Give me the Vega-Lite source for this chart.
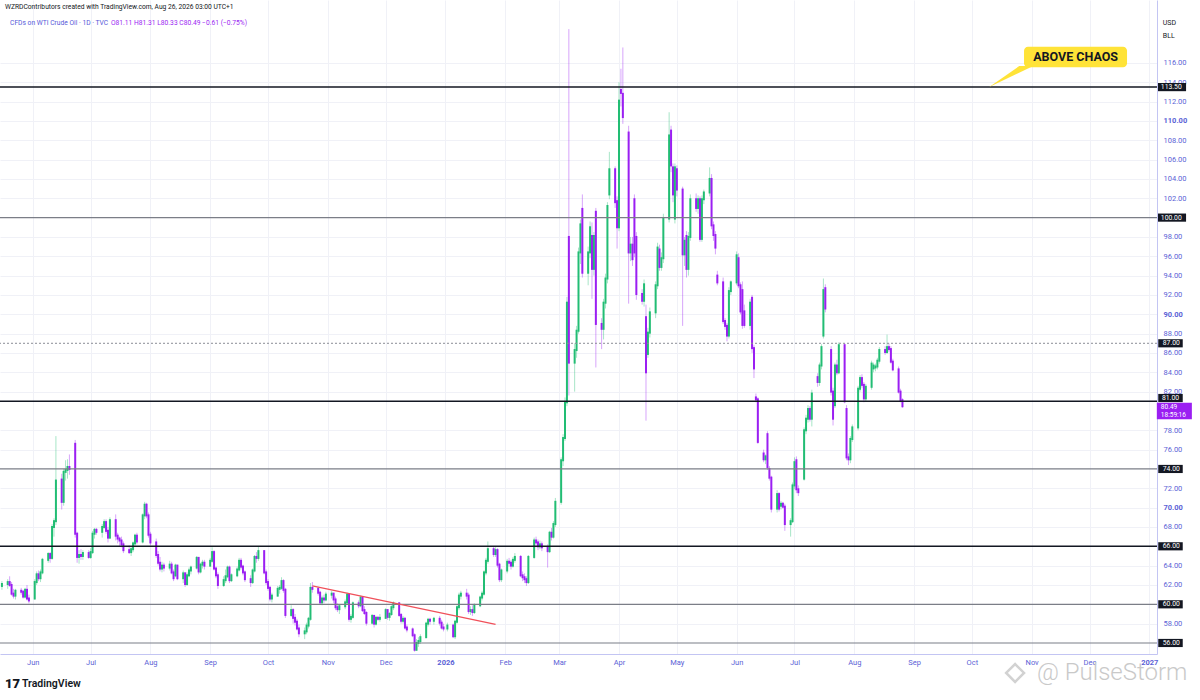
{
  "$schema": "https://vega.github.io/schema/vega-lite/v6.json",
  "width": 1157,
  "height": 654,
  "autosize": "none",
  "padding": {"left": 0, "top": 0, "right": 43, "bottom": 46},
  "background": "#ffffff",
  "config": {"view": {"stroke": null}, "font": "Roboto", "axis": {"labelOverlap": false, "labelFlush": false}},
  "datasets": {
    "ohlc": [
      {"d":"2025-05-16","o":61.9,"h":62.4,"l":61.5,"c":62.1},
      {"d":"2025-05-19","o":62.1,"h":62.6,"l":61.6,"c":62.3},
      {"d":"2025-05-20","o":62.3,"h":62.9,"l":61.8,"c":62.0},
      {"d":"2025-05-21","o":62.0,"h":62.3,"l":60.9,"c":61.1},
      {"d":"2025-05-22","o":61.1,"h":61.6,"l":60.6,"c":60.9},
      {"d":"2025-05-23","o":60.9,"h":61.6,"l":60.5,"c":61.4},
      {"d":"2025-05-26","o":61.4,"h":61.7,"l":61.0,"c":61.3},
      {"d":"2025-05-27","o":61.3,"h":61.5,"l":60.6,"c":60.8},
      {"d":"2025-05-28","o":60.8,"h":61.7,"l":60.6,"c":61.5},
      {"d":"2025-05-29","o":61.5,"h":62.0,"l":60.4,"c":60.6},
      {"d":"2025-05-30","o":60.6,"h":61.0,"l":60.1,"c":60.4},
      {"d":"2025-06-02","o":60.6,"h":62.6,"l":60.5,"c":62.3},
      {"d":"2025-06-03","o":62.3,"h":63.4,"l":62.0,"c":63.1},
      {"d":"2025-06-04","o":63.1,"h":63.5,"l":62.4,"c":62.7},
      {"d":"2025-06-05","o":62.7,"h":63.6,"l":62.3,"c":63.3},
      {"d":"2025-06-06","o":63.3,"h":64.8,"l":63.1,"c":64.6},
      {"d":"2025-06-09","o":64.6,"h":65.4,"l":64.3,"c":65.2},
      {"d":"2025-06-10","o":65.2,"h":65.4,"l":64.3,"c":64.8},
      {"d":"2025-06-11","o":64.8,"h":68.3,"l":64.6,"c":68.0},
      {"d":"2025-06-12","o":68.0,"h":68.9,"l":67.0,"c":68.6},
      {"d":"2025-06-13","o":68.6,"h":77.4,"l":68.2,"c":72.8},
      {"d":"2025-06-16","o":72.9,"h":73.5,"l":69.8,"c":70.6},
      {"d":"2025-06-17","o":70.6,"h":74.0,"l":70.2,"c":73.7},
      {"d":"2025-06-18","o":73.7,"h":74.9,"l":72.8,"c":73.9},
      {"d":"2025-06-19","o":73.9,"h":75.0,"l":73.0,"c":74.2},
      {"d":"2025-06-20","o":74.2,"h":75.5,"l":73.4,"c":74.0},
      {"d":"2025-06-23","o":76.6,"h":77.0,"l":66.9,"c":67.3},
      {"d":"2025-06-24","o":67.3,"h":67.5,"l":64.3,"c":64.9},
      {"d":"2025-06-25","o":64.9,"h":65.6,"l":64.2,"c":65.1},
      {"d":"2025-06-26","o":65.1,"h":65.7,"l":64.6,"c":65.0},
      {"d":"2025-06-27","o":65.0,"h":65.6,"l":64.6,"c":65.3},
      {"d":"2025-06-30","o":65.3,"h":65.6,"l":64.7,"c":64.9},
      {"d":"2025-07-01","o":64.9,"h":65.8,"l":64.7,"c":65.4},
      {"d":"2025-07-02","o":65.4,"h":67.6,"l":65.2,"c":67.3},
      {"d":"2025-07-03","o":67.3,"h":67.9,"l":66.8,"c":67.7},
      {"d":"2025-07-04","o":67.7,"h":67.9,"l":67.2,"c":67.5},
      {"d":"2025-07-07","o":67.5,"h":68.3,"l":66.9,"c":68.0},
      {"d":"2025-07-08","o":68.0,"h":68.8,"l":67.8,"c":68.5},
      {"d":"2025-07-09","o":68.5,"h":68.8,"l":67.3,"c":67.6},
      {"d":"2025-07-10","o":67.6,"h":68.0,"l":66.4,"c":66.9},
      {"d":"2025-07-11","o":66.9,"h":69.0,"l":66.8,"c":68.7},
      {"d":"2025-07-14","o":68.7,"h":69.3,"l":66.6,"c":67.1},
      {"d":"2025-07-15","o":67.1,"h":67.4,"l":66.3,"c":66.8},
      {"d":"2025-07-16","o":66.8,"h":67.0,"l":66.0,"c":66.6},
      {"d":"2025-07-17","o":66.6,"h":67.0,"l":65.9,"c":66.2},
      {"d":"2025-07-18","o":66.2,"h":66.5,"l":65.3,"c":65.6},
      {"d":"2025-07-21","o":65.6,"h":66.1,"l":65.2,"c":65.4},
      {"d":"2025-07-22","o":65.4,"h":66.0,"l":65.0,"c":65.7},
      {"d":"2025-07-23","o":65.7,"h":66.5,"l":65.4,"c":66.3},
      {"d":"2025-07-24","o":66.3,"h":67.3,"l":66.0,"c":67.1},
      {"d":"2025-07-25","o":67.1,"h":67.4,"l":66.2,"c":66.5},
      {"d":"2025-07-28","o":66.5,"h":69.4,"l":66.3,"c":69.2},
      {"d":"2025-07-29","o":69.2,"h":70.6,"l":68.8,"c":70.3},
      {"d":"2025-07-30","o":70.3,"h":70.5,"l":68.9,"c":69.2},
      {"d":"2025-07-31","o":69.2,"h":69.5,"l":66.9,"c":67.2},
      {"d":"2025-08-01","o":67.2,"h":67.5,"l":66.1,"c":66.4},
      {"d":"2025-08-04","o":66.4,"h":66.8,"l":64.8,"c":65.1},
      {"d":"2025-08-05","o":65.1,"h":65.5,"l":64.0,"c":64.3},
      {"d":"2025-08-06","o":64.3,"h":64.9,"l":63.4,"c":63.7},
      {"d":"2025-08-07","o":63.7,"h":64.4,"l":63.3,"c":64.0},
      {"d":"2025-08-08","o":64.0,"h":64.3,"l":63.4,"c":63.8},
      {"d":"2025-08-11","o":63.8,"h":64.5,"l":63.5,"c":64.1},
      {"d":"2025-08-12","o":64.1,"h":64.4,"l":63.1,"c":63.3},
      {"d":"2025-08-13","o":63.3,"h":63.6,"l":62.4,"c":62.7},
      {"d":"2025-08-14","o":63.0,"h":64.2,"l":62.8,"c":64.0},
      {"d":"2025-08-15","o":64.0,"h":64.1,"l":62.5,"c":62.7},
      {"d":"2025-08-18","o":62.7,"h":63.5,"l":62.2,"c":63.2},
      {"d":"2025-08-19","o":63.2,"h":63.3,"l":61.8,"c":62.1},
      {"d":"2025-08-20","o":62.1,"h":63.3,"l":61.9,"c":63.0},
      {"d":"2025-08-21","o":63.0,"h":63.8,"l":62.8,"c":63.5},
      {"d":"2025-08-22","o":63.5,"h":64.0,"l":63.1,"c":63.8},
      {"d":"2025-08-25","o":63.8,"h":65.0,"l":63.6,"c":64.8},
      {"d":"2025-08-26","o":64.8,"h":64.9,"l":63.1,"c":63.4},
      {"d":"2025-08-27","o":63.4,"h":64.3,"l":63.2,"c":64.1},
      {"d":"2025-08-28","o":64.1,"h":64.6,"l":63.7,"c":64.3},
      {"d":"2025-08-29","o":64.3,"h":64.6,"l":63.6,"c":64.0},
      {"d":"2025-09-01","o":64.0,"h":64.8,"l":63.9,"c":64.5},
      {"d":"2025-09-02","o":64.5,"h":65.9,"l":64.3,"c":65.4},
      {"d":"2025-09-03","o":65.4,"h":65.6,"l":63.5,"c":63.7},
      {"d":"2025-09-04","o":63.7,"h":63.9,"l":62.7,"c":63.0},
      {"d":"2025-09-05","o":63.0,"h":63.3,"l":61.6,"c":62.0},
      {"d":"2025-09-08","o":62.0,"h":62.9,"l":61.8,"c":62.5},
      {"d":"2025-09-09","o":62.5,"h":63.6,"l":62.2,"c":62.9},
      {"d":"2025-09-10","o":62.9,"h":64.0,"l":62.7,"c":63.8},
      {"d":"2025-09-11","o":63.8,"h":64.0,"l":62.2,"c":62.5},
      {"d":"2025-09-12","o":62.5,"h":63.2,"l":62.3,"c":63.0},
      {"d":"2025-09-15","o":63.0,"h":63.9,"l":62.8,"c":63.6},
      {"d":"2025-09-16","o":63.6,"h":64.8,"l":63.4,"c":64.5},
      {"d":"2025-09-17","o":64.5,"h":64.8,"l":63.6,"c":63.9},
      {"d":"2025-09-18","o":63.9,"h":64.1,"l":63.0,"c":63.3},
      {"d":"2025-09-19","o":63.3,"h":63.5,"l":62.3,"c":62.6},
      {"d":"2025-09-22","o":62.6,"h":63.0,"l":61.8,"c":62.3},
      {"d":"2025-09-23","o":62.3,"h":63.7,"l":62.1,"c":63.5},
      {"d":"2025-09-24","o":63.5,"h":65.1,"l":63.3,"c":64.9},
      {"d":"2025-09-25","o":64.9,"h":65.4,"l":64.3,"c":64.8},
      {"d":"2025-09-26","o":64.8,"h":66.0,"l":64.5,"c":65.5},
      {"d":"2025-09-29","o":65.5,"h":65.6,"l":63.1,"c":63.3},
      {"d":"2025-09-30","o":63.3,"h":63.6,"l":62.0,"c":62.3},
      {"d":"2025-10-01","o":62.3,"h":62.6,"l":61.4,"c":61.7},
      {"d":"2025-10-02","o":61.7,"h":61.9,"l":60.3,"c":60.6},
      {"d":"2025-10-03","o":60.6,"h":61.2,"l":60.2,"c":60.9},
      {"d":"2025-10-06","o":60.9,"h":61.9,"l":60.8,"c":61.6},
      {"d":"2025-10-07","o":61.6,"h":62.0,"l":61.1,"c":61.7},
      {"d":"2025-10-08","o":61.7,"h":62.8,"l":61.5,"c":62.4},
      {"d":"2025-10-09","o":62.4,"h":62.6,"l":61.2,"c":61.5},
      {"d":"2025-10-10","o":61.5,"h":61.7,"l":58.6,"c":58.9},
      {"d":"2025-10-13","o":58.9,"h":59.9,"l":58.7,"c":59.4},
      {"d":"2025-10-14","o":59.4,"h":59.6,"l":58.0,"c":58.6},
      {"d":"2025-10-15","o":58.6,"h":59.0,"l":57.8,"c":58.2},
      {"d":"2025-10-16","o":58.2,"h":58.5,"l":57.3,"c":57.5},
      {"d":"2025-10-17","o":57.5,"h":57.9,"l":56.6,"c":57.0},
      {"d":"2025-10-20","o":57.0,"h":57.6,"l":56.4,"c":57.2},
      {"d":"2025-10-21","o":57.2,"h":58.1,"l":56.9,"c":57.8},
      {"d":"2025-10-22","o":57.8,"h":58.7,"l":57.5,"c":58.5},
      {"d":"2025-10-23","o":58.5,"h":62.2,"l":58.3,"c":61.7},
      {"d":"2025-10-24","o":61.7,"h":62.3,"l":61.2,"c":61.6},
      {"d":"2025-10-27","o":61.6,"h":61.8,"l":60.9,"c":61.2},
      {"d":"2025-10-28","o":61.2,"h":61.4,"l":60.0,"c":60.2},
      {"d":"2025-10-29","o":60.2,"h":60.9,"l":59.9,"c":60.6},
      {"d":"2025-10-30","o":60.6,"h":61.0,"l":60.1,"c":60.5},
      {"d":"2025-10-31","o":60.5,"h":61.3,"l":60.3,"c":61.0},
      {"d":"2025-11-03","o":61.0,"h":61.4,"l":60.6,"c":61.1},
      {"d":"2025-11-04","o":61.1,"h":61.2,"l":60.1,"c":60.5},
      {"d":"2025-11-05","o":60.5,"h":60.8,"l":59.4,"c":59.7},
      {"d":"2025-11-06","o":59.7,"h":60.1,"l":59.2,"c":59.5},
      {"d":"2025-11-07","o":59.5,"h":60.0,"l":59.0,"c":59.8},
      {"d":"2025-11-10","o":59.8,"h":60.5,"l":59.5,"c":60.2},
      {"d":"2025-11-11","o":60.2,"h":61.2,"l":60.0,"c":61.0},
      {"d":"2025-11-12","o":61.0,"h":61.1,"l":58.2,"c":58.5},
      {"d":"2025-11-13","o":58.5,"h":59.0,"l":58.1,"c":58.7},
      {"d":"2025-11-14","o":58.7,"h":60.3,"l":58.5,"c":60.1},
      {"d":"2025-11-17","o":60.1,"h":60.4,"l":59.6,"c":59.9},
      {"d":"2025-11-18","o":59.9,"h":60.9,"l":59.7,"c":60.7},
      {"d":"2025-11-19","o":60.7,"h":60.8,"l":59.2,"c":59.4},
      {"d":"2025-11-20","o":59.4,"h":59.8,"l":58.9,"c":59.1},
      {"d":"2025-11-21","o":59.1,"h":59.3,"l":57.8,"c":58.1},
      {"d":"2025-11-24","o":58.1,"h":59.0,"l":57.9,"c":58.8},
      {"d":"2025-11-25","o":58.8,"h":58.9,"l":57.6,"c":58.0},
      {"d":"2025-11-26","o":58.0,"h":58.8,"l":57.8,"c":58.6},
      {"d":"2025-11-27","o":58.6,"h":58.8,"l":58.3,"c":58.5},
      {"d":"2025-11-28","o":58.5,"h":59.0,"l":58.2,"c":58.6},
      {"d":"2025-12-01","o":58.6,"h":59.6,"l":58.5,"c":59.4},
      {"d":"2025-12-02","o":59.4,"h":59.5,"l":58.4,"c":58.7},
      {"d":"2025-12-03","o":58.7,"h":59.2,"l":58.3,"c":59.0},
      {"d":"2025-12-04","o":59.0,"h":59.9,"l":58.8,"c":59.7},
      {"d":"2025-12-05","o":59.7,"h":60.3,"l":59.4,"c":60.1},
      {"d":"2025-12-08","o":60.1,"h":60.2,"l":58.7,"c":58.9},
      {"d":"2025-12-09","o":58.9,"h":59.1,"l":58.0,"c":58.3},
      {"d":"2025-12-10","o":58.3,"h":58.8,"l":58.0,"c":58.5},
      {"d":"2025-12-11","o":58.5,"h":58.7,"l":57.4,"c":57.6},
      {"d":"2025-12-12","o":57.6,"h":57.9,"l":57.1,"c":57.4},
      {"d":"2025-12-15","o":57.4,"h":57.6,"l":56.6,"c":56.8},
      {"d":"2025-12-16","o":56.8,"h":57.0,"l":55.1,"c":55.3},
      {"d":"2025-12-17","o":55.3,"h":56.4,"l":55.2,"c":56.0},
      {"d":"2025-12-18","o":56.0,"h":56.6,"l":55.6,"c":56.2},
      {"d":"2025-12-19","o":56.2,"h":56.9,"l":55.9,"c":56.6},
      {"d":"2025-12-22","o":56.6,"h":58.2,"l":56.5,"c":58.0},
      {"d":"2025-12-23","o":58.0,"h":58.6,"l":57.7,"c":58.4},
      {"d":"2025-12-24","o":58.4,"h":58.6,"l":57.9,"c":58.3},
      {"d":"2025-12-26","o":58.3,"h":58.7,"l":57.9,"c":58.5},
      {"d":"2025-12-29","o":58.5,"h":58.8,"l":57.8,"c":58.1},
      {"d":"2025-12-30","o":58.1,"h":58.4,"l":57.4,"c":57.6},
      {"d":"2025-12-31","o":57.6,"h":58.0,"l":57.2,"c":57.5},
      {"d":"2026-01-02","o":57.5,"h":58.1,"l":57.2,"c":57.8},
      {"d":"2026-01-05","o":57.8,"h":58.0,"l":56.5,"c":56.7},
      {"d":"2026-01-06","o":56.7,"h":58.4,"l":56.4,"c":58.2},
      {"d":"2026-01-07","o":58.2,"h":59.9,"l":58.0,"c":59.7},
      {"d":"2026-01-08","o":59.7,"h":61.2,"l":59.4,"c":60.9},
      {"d":"2026-01-09","o":60.9,"h":61.4,"l":60.5,"c":61.1},
      {"d":"2026-01-12","o":61.1,"h":61.6,"l":60.5,"c":60.9},
      {"d":"2026-01-13","o":60.9,"h":61.2,"l":59.0,"c":59.3},
      {"d":"2026-01-14","o":59.3,"h":59.8,"l":58.9,"c":59.4},
      {"d":"2026-01-15","o":59.4,"h":59.9,"l":58.8,"c":59.2},
      {"d":"2026-01-16","o":59.2,"h":60.1,"l":59.0,"c":59.9},
      {"d":"2026-01-19","o":59.9,"h":60.9,"l":59.7,"c":60.7},
      {"d":"2026-01-20","o":60.7,"h":61.4,"l":60.4,"c":61.1},
      {"d":"2026-01-21","o":61.1,"h":63.5,"l":60.9,"c":63.3},
      {"d":"2026-01-22","o":63.3,"h":64.8,"l":63.0,"c":64.5},
      {"d":"2026-01-23","o":64.5,"h":66.5,"l":64.2,"c":65.7},
      {"d":"2026-01-26","o":65.7,"h":66.0,"l":64.9,"c":65.2},
      {"d":"2026-01-27","o":65.2,"h":65.9,"l":64.9,"c":65.6},
      {"d":"2026-01-28","o":65.6,"h":65.8,"l":63.8,"c":64.1},
      {"d":"2026-01-29","o":64.1,"h":64.3,"l":62.3,"c":62.6},
      {"d":"2026-01-30","o":62.6,"h":63.7,"l":62.3,"c":63.5},
      {"d":"2026-02-02","o":63.5,"h":64.7,"l":63.2,"c":64.4},
      {"d":"2026-02-03","o":64.4,"h":64.8,"l":63.9,"c":64.3},
      {"d":"2026-02-04","o":64.3,"h":64.6,"l":63.6,"c":64.0},
      {"d":"2026-02-05","o":64.0,"h":64.9,"l":63.8,"c":64.6},
      {"d":"2026-02-06","o":64.6,"h":65.3,"l":64.3,"c":64.9},
      {"d":"2026-02-09","o":64.9,"h":65.1,"l":62.8,"c":63.0},
      {"d":"2026-02-10","o":63.0,"h":63.4,"l":62.4,"c":62.8},
      {"d":"2026-02-11","o":62.8,"h":63.2,"l":62.2,"c":62.6},
      {"d":"2026-02-12","o":62.6,"h":62.9,"l":61.9,"c":62.3},
      {"d":"2026-02-13","o":62.3,"h":65.1,"l":62.1,"c":64.9},
      {"d":"2026-02-16","o":64.9,"h":66.9,"l":64.7,"c":66.6},
      {"d":"2026-02-17","o":66.6,"h":67.0,"l":65.9,"c":66.4},
      {"d":"2026-02-18","o":66.4,"h":66.7,"l":65.6,"c":66.0},
      {"d":"2026-02-19","o":66.0,"h":66.6,"l":65.7,"c":66.2},
      {"d":"2026-02-20","o":66.2,"h":66.5,"l":65.5,"c":65.9},
      {"d":"2026-02-23","o":65.9,"h":66.2,"l":63.8,"c":65.5},
      {"d":"2026-02-24","o":65.5,"h":67.6,"l":65.3,"c":67.4},
      {"d":"2026-02-25","o":67.4,"h":67.9,"l":66.6,"c":67.0},
      {"d":"2026-02-26","o":67.0,"h":68.6,"l":66.8,"c":68.3},
      {"d":"2026-02-27","o":68.3,"h":71.0,"l":68.0,"c":70.6},
      {"d":"2026-03-02","o":70.6,"h":75.2,"l":70.3,"c":74.9},
      {"d":"2026-03-03","o":74.9,"h":77.6,"l":74.3,"c":77.2},
      {"d":"2026-03-04","o":77.2,"h":81.4,"l":76.9,"c":80.9},
      {"d":"2026-03-05","o":80.9,"h":91.8,"l":80.5,"c":91.2},
      {"d":"2026-03-06","o":98.0,"h":119.5,"l":81.6,"c":85.0},
      {"d":"2026-03-09","o":85.0,"h":87.0,"l":82.0,"c":86.3},
      {"d":"2026-03-10","o":86.3,"h":88.8,"l":85.5,"c":88.3},
      {"d":"2026-03-11","o":88.3,"h":96.9,"l":88.0,"c":96.4},
      {"d":"2026-03-12","o":96.4,"h":99.8,"l":95.2,"c":99.3},
      {"d":"2026-03-13","o":100.9,"h":102.4,"l":93.8,"c":94.3},
      {"d":"2026-03-16","o":94.3,"h":97.0,"l":93.0,"c":96.4},
      {"d":"2026-03-17","o":96.4,"h":99.6,"l":95.8,"c":99.0},
      {"d":"2026-03-18","o":98.1,"h":99.5,"l":91.6,"c":94.7},
      {"d":"2026-03-19","o":94.7,"h":98.5,"l":94.0,"c":98.1},
      {"d":"2026-03-20","o":100.6,"h":101.0,"l":84.5,"c":89.0},
      {"d":"2026-03-23","o":89.0,"h":89.6,"l":86.4,"c":88.5},
      {"d":"2026-03-24","o":88.5,"h":91.6,"l":87.4,"c":91.2},
      {"d":"2026-03-25","o":91.2,"h":94.2,"l":90.6,"c":93.7},
      {"d":"2026-03-26","o":93.7,"h":101.6,"l":93.2,"c":101.2},
      {"d":"2026-03-27","o":102.4,"h":106.8,"l":101.9,"c":105.0},
      {"d":"2026-03-30","o":105.0,"h":105.3,"l":101.0,"c":101.6},
      {"d":"2026-03-31","o":101.7,"h":102.2,"l":96.8,"c":99.0},
      {"d":"2026-04-01","o":99.0,"h":114.0,"l":98.6,"c":112.1},
      {"d":"2026-04-02","o":113.2,"h":115.4,"l":111.5,"c":112.9},
      {"d":"2026-04-03","o":112.8,"h":117.6,"l":109.7,"c":110.4},
      {"d":"2026-04-06","o":108.8,"h":109.5,"l":91.1,"c":96.4},
      {"d":"2026-04-07","o":96.4,"h":98.0,"l":95.5,"c":97.2},
      {"d":"2026-04-08","o":97.2,"h":98.0,"l":95.0,"c":95.7},
      {"d":"2026-04-09","o":101.9,"h":102.4,"l":95.9,"c":96.4},
      {"d":"2026-04-10","o":98.0,"h":98.5,"l":91.5,"c":92.1},
      {"d":"2026-04-13","o":92.1,"h":92.6,"l":91.0,"c":91.4},
      {"d":"2026-04-14","o":91.4,"h":93.6,"l":90.8,"c":93.1},
      {"d":"2026-04-15","o":89.7,"h":91.0,"l":79.0,"c":84.0},
      {"d":"2026-04-16","o":85.9,"h":88.6,"l":85.5,"c":88.1},
      {"d":"2026-04-17","o":88.1,"h":90.7,"l":87.6,"c":90.2},
      {"d":"2026-04-20","o":90.2,"h":93.4,"l":89.6,"c":93.0},
      {"d":"2026-04-21","o":93.0,"h":97.4,"l":92.6,"c":96.9},
      {"d":"2026-04-22","o":96.7,"h":97.2,"l":94.5,"c":94.9},
      {"d":"2026-04-23","o":94.9,"h":96.4,"l":94.5,"c":95.8},
      {"d":"2026-04-24","o":95.8,"h":100.4,"l":95.3,"c":99.9},
      {"d":"2026-04-27","o":99.9,"h":110.9,"l":99.5,"c":108.5},
      {"d":"2026-04-28","o":109.0,"h":109.5,"l":104.7,"c":105.4},
      {"d":"2026-04-29","o":105.2,"h":105.6,"l":101.6,"c":102.4},
      {"d":"2026-04-30","o":99.9,"h":105.6,"l":99.4,"c":105.2},
      {"d":"2026-05-01","o":105.0,"h":105.4,"l":102.2,"c":102.9},
      {"d":"2026-05-04","o":102.9,"h":103.2,"l":88.8,"c":96.2},
      {"d":"2026-05-05","o":96.2,"h":98.0,"l":95.0,"c":97.6},
      {"d":"2026-05-06","o":98.1,"h":98.6,"l":93.8,"c":94.7},
      {"d":"2026-05-07","o":94.7,"h":98.5,"l":94.0,"c":98.0},
      {"d":"2026-05-08","o":98.0,"h":102.4,"l":97.6,"c":101.9},
      {"d":"2026-05-11","o":101.9,"h":102.5,"l":100.6,"c":101.0},
      {"d":"2026-05-12","o":101.0,"h":102.3,"l":100.4,"c":101.9},
      {"d":"2026-05-13","o":101.9,"h":102.2,"l":97.5,"c":97.8},
      {"d":"2026-05-14","o":97.8,"h":102.3,"l":97.5,"c":101.9},
      {"d":"2026-05-15","o":101.9,"h":102.9,"l":101.4,"c":102.6},
      {"d":"2026-05-18","o":102.6,"h":105.2,"l":102.2,"c":104.0},
      {"d":"2026-05-19","o":104.0,"h":104.5,"l":98.8,"c":99.2},
      {"d":"2026-05-20","o":99.2,"h":99.6,"l":97.6,"c":98.2},
      {"d":"2026-05-21","o":98.2,"h":98.6,"l":96.2,"c":96.9},
      {"d":"2026-05-22","o":94.0,"h":94.5,"l":93.0,"c":93.3},
      {"d":"2026-05-25","o":93.3,"h":93.8,"l":89.0,"c":89.3},
      {"d":"2026-05-26","o":89.3,"h":89.6,"l":88.4,"c":88.8},
      {"d":"2026-05-27","o":88.8,"h":89.1,"l":87.2,"c":87.8},
      {"d":"2026-05-28","o":87.8,"h":92.8,"l":87.5,"c":92.4},
      {"d":"2026-05-29","o":92.4,"h":93.5,"l":92.0,"c":93.3},
      {"d":"2026-06-01","o":93.3,"h":96.5,"l":93.0,"c":96.1},
      {"d":"2026-06-02","o":95.8,"h":96.3,"l":92.7,"c":93.0},
      {"d":"2026-06-03","o":93.0,"h":93.3,"l":90.0,"c":90.3},
      {"d":"2026-06-04","o":92.5,"h":93.4,"l":88.5,"c":88.9},
      {"d":"2026-06-05","o":90.3,"h":91.0,"l":88.6,"c":88.9},
      {"d":"2026-06-08","o":88.9,"h":91.6,"l":88.4,"c":91.2},
      {"d":"2026-06-09","o":91.7,"h":92.0,"l":86.0,"c":86.5},
      {"d":"2026-06-10","o":86.5,"h":86.8,"l":83.4,"c":84.4},
      {"d":"2026-06-11","o":81.4,"h":81.8,"l":80.9,"c":81.2},
      {"d":"2026-06-12","o":81.2,"h":81.4,"l":76.6,"c":76.8},
      {"d":"2026-06-15","o":75.6,"h":76.0,"l":74.7,"c":75.0},
      {"d":"2026-06-16","o":75.0,"h":75.5,"l":74.5,"c":75.3},
      {"d":"2026-06-17","o":77.6,"h":77.9,"l":73.9,"c":74.2},
      {"d":"2026-06-18","o":74.0,"h":74.3,"l":72.8,"c":73.1},
      {"d":"2026-06-19","o":73.1,"h":73.3,"l":69.5,"c":69.9},
      {"d":"2026-06-22","o":69.9,"h":71.8,"l":69.5,"c":71.4},
      {"d":"2026-06-23","o":71.4,"h":71.6,"l":69.6,"c":69.9},
      {"d":"2026-06-24","o":70.2,"h":70.7,"l":69.8,"c":70.4},
      {"d":"2026-06-25","o":70.4,"h":70.6,"l":69.9,"c":70.1},
      {"d":"2026-06-26","o":70.1,"h":70.4,"l":67.6,"c":68.3},
      {"d":"2026-06-29","o":68.3,"h":68.9,"l":67.0,"c":68.6},
      {"d":"2026-06-30","o":68.6,"h":72.6,"l":68.4,"c":72.3},
      {"d":"2026-07-01","o":72.3,"h":75.2,"l":71.9,"c":74.7},
      {"d":"2026-07-02","o":74.9,"h":75.3,"l":71.5,"c":71.9},
      {"d":"2026-07-03","o":71.9,"h":72.3,"l":71.2,"c":71.6},
      {"d":"2026-07-06","o":73.0,"h":78.3,"l":72.8,"c":78.0},
      {"d":"2026-07-07","o":78.0,"h":79.6,"l":77.6,"c":79.2},
      {"d":"2026-07-08","o":79.2,"h":80.6,"l":78.8,"c":80.2},
      {"d":"2026-07-09","o":80.2,"h":80.5,"l":78.9,"c":79.2},
      {"d":"2026-07-10","o":79.2,"h":82.2,"l":78.4,"c":81.8},
      {"d":"2026-07-13","o":83.5,"h":83.9,"l":82.5,"c":83.0},
      {"d":"2026-07-14","o":83.0,"h":85.0,"l":82.6,"c":84.7},
      {"d":"2026-07-15","o":84.7,"h":86.9,"l":84.3,"c":86.6},
      {"d":"2026-07-16","o":87.8,"h":93.7,"l":87.5,"c":92.5},
      {"d":"2026-07-17","o":92.7,"h":93.1,"l":90.2,"c":90.6},
      {"d":"2026-07-20","o":86.3,"h":86.7,"l":81.6,"c":82.0},
      {"d":"2026-07-21","o":82.0,"h":82.4,"l":78.5,"c":79.2},
      {"d":"2026-07-22","o":80.6,"h":85.0,"l":80.3,"c":84.7},
      {"d":"2026-07-23","o":84.7,"h":85.3,"l":83.7,"c":84.0},
      {"d":"2026-07-24","o":84.0,"h":87.1,"l":83.8,"c":86.8},
      {"d":"2026-07-27","o":86.8,"h":87.0,"l":80.8,"c":81.0},
      {"d":"2026-07-28","o":80.2,"h":80.6,"l":74.9,"c":75.2},
      {"d":"2026-07-29","o":75.2,"h":75.6,"l":74.4,"c":75.0},
      {"d":"2026-07-30","o":75.0,"h":77.4,"l":74.6,"c":77.1},
      {"d":"2026-07-31","o":77.1,"h":78.6,"l":76.8,"c":78.3},
      {"d":"2026-08-03","o":78.3,"h":82.6,"l":78.0,"c":82.3},
      {"d":"2026-08-04","o":82.3,"h":83.7,"l":82.0,"c":83.4},
      {"d":"2026-08-05","o":83.4,"h":83.8,"l":82.4,"c":82.7},
      {"d":"2026-08-06","o":82.7,"h":83.0,"l":80.9,"c":81.3},
      {"d":"2026-08-07","o":81.3,"h":82.8,"l":81.0,"c":82.5},
      {"d":"2026-08-10","o":82.5,"h":85.2,"l":82.2,"c":84.9},
      {"d":"2026-08-11","o":84.4,"h":85.0,"l":84.0,"c":84.7},
      {"d":"2026-08-12","o":84.5,"h":84.9,"l":84.1,"c":84.6},
      {"d":"2026-08-13","o":84.6,"h":85.5,"l":84.3,"c":85.2},
      {"d":"2026-08-14","o":85.2,"h":86.6,"l":84.9,"c":86.3},
      {"d":"2026-08-17","o":86.3,"h":86.7,"l":85.8,"c":86.1},
      {"d":"2026-08-18","o":86.1,"h":87.9,"l":85.9,"c":86.6},
      {"d":"2026-08-19","o":86.6,"h":87.0,"l":86.1,"c":86.4},
      {"d":"2026-08-20","o":86.4,"h":86.7,"l":84.9,"c":85.1},
      {"d":"2026-08-21","o":85.1,"h":85.4,"l":84.1,"c":84.3},
      {"d":"2026-08-24","o":84.3,"h":84.6,"l":81.8,"c":82.0},
      {"d":"2026-08-25","o":82.0,"h":82.3,"l":80.9,"c":81.1},
      {"d":"2026-08-26","o":81.11,"h":81.31,"l":80.33,"c":80.49}
    ],
    "levels": [
      {"p":113.5,"kind":"strong"},
      {"p":100,"kind":"weak"},
      {"p":87,"kind":"pivot"},
      {"p":81,"kind":"strong"},
      {"p":74,"kind":"weak"},
      {"p":66,"kind":"strong"},
      {"p":60,"kind":"weak"},
      {"p":56,"kind":"weak"}
    ]
  },
  "layer": [
    {
      "data": {"name": "ohlc"},
      "mark": {"type": "rule", "strokeWidth": 1, "opacity": 0.4},
      "encoding": {
        "x": {
          "field": "d", "type": "temporal",
          "scale": {"type": "utc", "domain": [{"year":2025,"month":5,"date":15,"utc":true},{"year":2027,"month":1,"date":5,"utc":true}]},
          "axis": {
            "title": null,
            "tickCount": 40,
            "values": [
              {"year":2025,"month":6,"date":1,"utc":true},{"year":2025,"month":7,"date":1,"utc":true},{"year":2025,"month":8,"date":1,"utc":true},
              {"year":2025,"month":9,"date":1,"utc":true},{"year":2025,"month":10,"date":1,"utc":true},{"year":2025,"month":11,"date":1,"utc":true},
              {"year":2025,"month":12,"date":1,"utc":true},{"year":2026,"month":1,"date":1,"utc":true},{"year":2026,"month":2,"date":1,"utc":true},
              {"year":2026,"month":3,"date":1,"utc":true},{"year":2026,"month":4,"date":1,"utc":true},{"year":2026,"month":5,"date":1,"utc":true},
              {"year":2026,"month":6,"date":1,"utc":true},{"year":2026,"month":7,"date":1,"utc":true},{"year":2026,"month":8,"date":1,"utc":true},
              {"year":2026,"month":9,"date":1,"utc":true},{"year":2026,"month":10,"date":1,"utc":true},{"year":2026,"month":11,"date":1,"utc":true},
              {"year":2026,"month":12,"date":1,"utc":true},{"year":2027,"month":1,"date":1,"utc":true}
            ],
            "labelExpr": "utcmonth(datum.value) == 0 ? utcFormat(datum.value, '%Y') : utcFormat(datum.value, '%b')",
            "labelFontWeight": {"condition": {"test": "utcmonth(datum.value) == 0", "value": "bold"}, "value": "normal"},
            "labelFontSize": 7.5,
            "labelColor": "#5b5fd6",
            "labelPadding": 4,
            "labelFlush": false,
            "labelOverlap": false,
            "ticks": false,
            "domainColor": "#c3c5f3",
            "grid": true,
            "gridColor": "#f0f1f7"
          }
        },
        "y": {
          "field": "l", "type": "quantitative",
          "scale": {"domain": [54.86, 122.51], "nice": false, "zero": false},
          "axis": {
            "title": null,
            "orient": "right",
            "tickCount": 40,
            "values": [58,62,64,68,70,72,76,78,82,84,86,88,90,92,94,96,98,102,104,106,108,110,112,114,116],
            "format": ".2f",
            "labelFontSize": 7.5,
            "labelColor": "#5b5fd6",
            "labelFontWeight": {"condition": {"test": "datum.value % 20 == 10", "value": "bold"}, "value": "normal"},
            "labelPadding": 6,
            "labelOverlap": false,
            "labelFlush": false,
            "ticks": false,
            "domainColor": "#c3c5f3",
            "grid": true,
            "gridColor": "#f0f1f7"
          }
        },
        "y2": {"field": "h"},
        "color": {"condition": {"test": "datum.c >= datum.o", "value": "#22bd74"}, "value": "#9b1ff2"}
      }
    },
    {
      "data": {"name": "ohlc"},
      "mark": {"type": "rule", "strokeWidth": 2, "strokeCap": "square"},
      "encoding": {
        "x": {"field": "d", "type": "temporal"},
        "y": {"field": "o", "type": "quantitative"},
        "y2": {"field": "c"},
        "color": {"condition": {"test": "datum.c >= datum.o", "value": "#22bd74"}, "value": "#9b1ff2"}
      }
    },
    {
      "data": {"name": "levels"},
      "transform": [{"filter": {"field": "kind", "equal": "weak"}}],
      "mark": {"type": "rule", "color": "#7b7e87", "strokeWidth": 1.2},
      "encoding": {"y": {"field": "p", "type": "quantitative"}}
    },
    {
      "data": {"name": "levels"},
      "transform": [{"filter": {"field": "kind", "equal": "pivot"}}],
      "mark": {"type": "rule", "color": "#8a8d96", "strokeWidth": 1, "strokeDash": [2, 2]},
      "encoding": {"y": {"field": "p", "type": "quantitative"}}
    },
    {
      "data": {"name": "levels"},
      "transform": [{"filter": {"field": "kind", "equal": "strong"}}],
      "mark": {"type": "rule", "color": "#131722", "strokeWidth": 1.5},
      "encoding": {"y": {"field": "p", "type": "quantitative"}}
    },
    {
      "data": {"values": [{}]},
      "mark": {"type": "rule", "color": "#f0505a", "strokeWidth": 1.2},
      "encoding": {
        "x": {"datum": {"year":2025,"month":10,"date":24,"utc":true}, "type": "temporal"},
        "x2": {"datum": {"year":2026,"month":1,"date":27,"utc":true}},
        "y": {"datum": 61.9, "type": "quantitative"},
        "y2": {"datum": 57.93}
      }
    },
    {
      "data": {"name": "levels"},
      "transform": [{"filter": "datum.p != 81 && datum.p < 100"}],
      "mark": {"type": "point", "shape": "M-1.02,-0.34H1.02V0.34H-1.02Z", "filled": true, "size": 576, "color": "#131722", "opacity": 1},
      "encoding": {
        "x": {"datum": {"year":2027,"month":1,"date":12,"utc":true}, "type": "temporal"},
        "y": {"field": "p", "type": "quantitative"}
      }
    },
    {
      "data": {"name": "levels"},
      "transform": [{"filter": "datum.p >= 100"}],
      "mark": {"type": "point", "shape": "M-1.17,-0.34H1.17V0.34H-1.17Z", "filled": true, "size": 576, "color": "#131722", "opacity": 1},
      "encoding": {
        "x": {"datum": {"year":2027,"month":1,"date":12,"hours":19,"utc":true}, "type": "temporal"},
        "y": {"field": "p", "type": "quantitative"}
      }
    },
    {
      "data": {"name": "levels"},
      "transform": [{"filter": "datum.p != 81"}],
      "mark": {"type": "text", "color": "#ffffff", "fontSize": 6.8, "align": "center", "baseline": "middle"},
      "encoding": {
        "x": {"datum": {"year":2027,"month":1,"date":12,"hours":10,"utc":true}, "type": "temporal"},
        "y": {"field": "p", "type": "quantitative"},
        "text": {"field": "p", "type": "quantitative", "format": ".2f"}
      }
    },
    {
      "data": {"values": [{}]},
      "mark": {"type": "point", "shape": "M-1.46,-0.69H1.46V0.69H-1.46Z", "filled": true, "size": 576, "color": "#9b1ff2", "opacity": 1},
      "encoding": {
        "x": {"datum": {"year":2027,"month":1,"date":14,"utc":true}, "type": "temporal"},
        "y": {"datum": 80.0, "type": "quantitative"}
      }
    },
    {
      "data": {"values": [{}]},
      "mark": {"type": "point", "shape": "M-1.02,-0.34H1.02V0.34H-1.02Z", "filled": true, "size": 576, "color": "#131722", "opacity": 1},
      "encoding": {
        "x": {"datum": {"year":2027,"month":1,"date":12,"utc":true}, "type": "temporal"},
        "y": {"datum": 81.34, "type": "quantitative"}
      }
    },
    {
      "data": {"values": [{}]},
      "mark": {"type": "text", "text": "81.00", "color": "#ffffff", "fontSize": 6.8, "align": "center", "baseline": "middle"},
      "encoding": {
        "x": {"datum": {"year":2027,"month":1,"date":12,"utc":true}, "type": "temporal"},
        "y": {"datum": 81.34, "type": "quantitative"}
      }
    },
    {
      "data": {"values": [{"t": "80.49", "p": 80.36}, {"t": "18:59:16", "p": 79.62}]},
      "mark": {"type": "text", "color": "#ffffff", "fontSize": 6.5, "align": "left", "baseline": "middle"},
      "encoding": {
        "x": {"datum": {"year":2027,"month":1,"date":7,"utc":true}, "type": "temporal"},
        "y": {"field": "p", "type": "quantitative"},
        "text": {"field": "t"}
      }
    },
    {
      "data": {"values": [{}]},
      "mark": {"type": "rect", "color": "#ffe338", "cornerRadius": 4},
      "encoding": {
        "x": {"datum": {"year":2026,"month":10,"date":28,"hours":1,"utc":true}, "type": "temporal"},
        "x2": {"datum": {"year":2026,"month":12,"date":20,"hours":11,"utc":true}},
        "y": {"datum": 117.68, "type": "quantitative"},
        "y2": {"datum": 115.55}
      }
    },
    {
      "data": {"values": [{}]},
      "mark": {"type": "point", "shape": "M0,0L30,-21L44,-21Z", "filled": true, "size": 4, "color": "#ffe338", "opacity": 1},
      "encoding": {
        "x": {"datum": {"year":2026,"month":10,"date":10,"utc":true}, "type": "temporal"},
        "y": {"datum": 113.5, "type": "quantitative"}
      }
    },
    {
      "data": {"values": [{}]},
      "mark": {"type": "text", "text": "ABOVE CHAOS", "fontSize": 12.5, "fontWeight": "bold", "color": "#131722", "align": "center", "baseline": "middle"},
      "encoding": {
        "x": {"datum": {"year":2026,"month":11,"date":23,"hours":19,"utc":true}, "type": "temporal"},
        "y": {"datum": 116.6, "type": "quantitative"}
      }
    },
    {
      "data": {"values": [{}]},
      "mark": {"type": "text", "text": "WZRDContributors created with TradingView.com, Aug 26, 2026 03:00 UTC+1", "fontSize": 6.7, "color": "#131722", "align": "left", "baseline": "middle"},
      "encoding": {
        "x": {"datum": {"year":2025,"month":5,"date":17,"hours":14,"utc":true}, "type": "temporal"},
        "y": {"datum": 121.75, "type": "quantitative"}
      }
    },
    {
      "data": {"values": [{}]},
      "mark": {"type": "text", "text": "CFDs on WTI Crude Oil · 1D · TVC", "fontSize": 6.7, "color": "#5558d9", "align": "left", "baseline": "middle"},
      "encoding": {
        "x": {"datum": {"year":2025,"month":5,"date":20,"hours":5,"utc":true}, "type": "temporal"},
        "y": {"datum": 120.16, "type": "quantitative"}
      }
    },
    {
      "data": {"values": [{}]},
      "mark": {"type": "text", "text": "O81.11  H81.31  L80.33  C80.49  −0.61 (−0.75%)", "fontSize": 6.7, "color": "#9b1ff2", "align": "left", "baseline": "middle"},
      "encoding": {
        "x": {"datum": {"year":2025,"month":7,"date":11,"hours":13,"utc":true}, "type": "temporal"},
        "y": {"datum": 120.16, "type": "quantitative"}
      }
    },
    {
      "data": {"values": [{"t": "USD", "p": 120.16}, {"t": "BLL", "p": 118.82}]},
      "mark": {"type": "text", "fontSize": 7, "color": "#131722", "align": "left", "baseline": "middle"},
      "encoding": {
        "x": {"datum": {"year":2027,"month":1,"date":8,"utc":true}, "type": "temporal"},
        "y": {"field": "p", "type": "quantitative"},
        "text": {"field": "t"}
      }
    },
    {
      "data": {"values": [{}]},
      "mark": {"type": "text", "text": "17", "fontSize": 13, "fontWeight": 900, "color": "#131722", "align": "left", "baseline": "middle"},
      "encoding": {
        "x": {"datum": {"year":2025,"month":5,"date":17,"hours":14,"utc":true}, "type": "temporal"},
        "y": {"datum": 51.75, "type": "quantitative"}
      }
    },
    {
      "data": {"values": [{}]},
      "mark": {"type": "text", "text": "TradingView", "fontSize": 10.5, "fontWeight": 600, "color": "#131722", "align": "left", "baseline": "middle"},
      "encoding": {
        "x": {"datum": {"year":2025,"month":5,"date":26,"hours":10,"utc":true}, "type": "temporal"},
        "y": {"datum": 51.75, "type": "quantitative"}
      }
    },
    {
      "data": {"values": [{}]},
      "mark": {"type": "point", "shape": "diamond", "filled": false, "size": 320, "strokeWidth": 2.5, "color": "#d2d2d2", "opacity": 1},
      "encoding": {
        "x": {"datum": {"year":2026,"month":10,"date":23,"hours":10,"utc":true}, "type": "temporal"},
        "y": {"datum": 52.9, "type": "quantitative"}
      }
    },
    {
      "data": {"values": [{}]},
      "mark": {"type": "text", "text": "@ PulseStorm", "fontSize": 24, "fontWeight": 300, "color": "#c9c9c9", "align": "left", "baseline": "middle"},
      "encoding": {
        "x": {"datum": {"year":2026,"month":11,"date":3,"hours":19,"utc":true}, "type": "temporal"},
        "y": {"datum": 52.9, "type": "quantitative"}
      }
    }
  ]
}
